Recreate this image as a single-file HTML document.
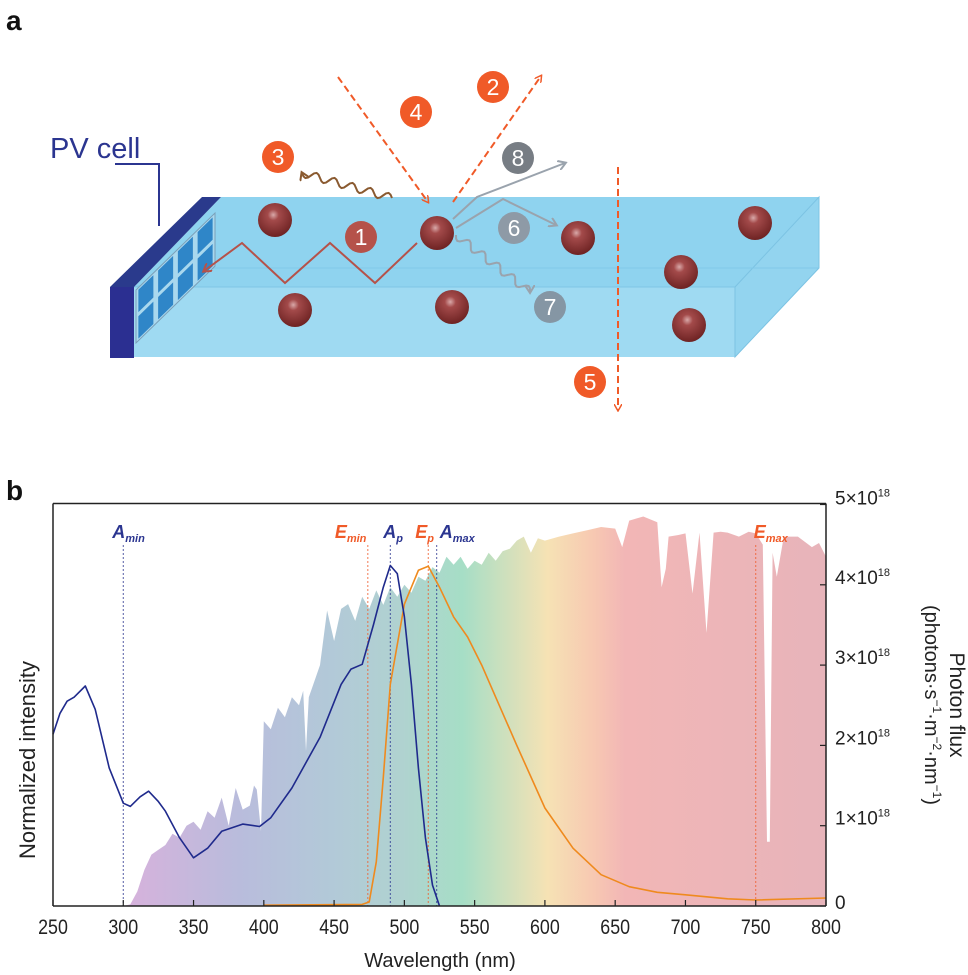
<!DOCTYPE html>
<html><head><meta charset="utf-8">
<style>
html,body{margin:0;padding:0;background:#fff;}
svg{display:block;font-family:"Liberation Sans",sans-serif;}
</style></head>
<body>
<svg id="fig" width="968" height="975" viewBox="0 0 968 975">
<defs>
<radialGradient id="ball" cx="0.45" cy="0.35" r="0.65">
<stop offset="0" stop-color="#d9a9a9"/><stop offset="0.25" stop-color="#a34a4a"/><stop offset="1" stop-color="#6e2323"/>
</radialGradient>
<linearGradient id="spec" x1="53" y1="0" x2="826" y2="0" gradientUnits="userSpaceOnUse">
<stop offset="0.07" stop-color="#dcb0dc"/>
<stop offset="0.24" stop-color="#b9bcdc"/>
<stop offset="0.36" stop-color="#b2c9d8"/>
<stop offset="0.45" stop-color="#b0d2d0"/>
<stop offset="0.53" stop-color="#a6dec6"/>
<stop offset="0.64" stop-color="#f6e2b4"/>
<stop offset="0.7" stop-color="#f7c8b2"/>
<stop offset="0.74" stop-color="#f2b6b6"/>
<stop offset="1" stop-color="#e7b4ba"/>
</linearGradient>
<marker id="arO" markerWidth="8" markerHeight="8" refX="6" refY="4" orient="auto" markerUnits="userSpaceOnUse"><path d="M0,0 L7,4 L0,8" fill="none" stroke="#f05a28" stroke-width="1.5"/></marker>
<marker id="arR" markerWidth="10" markerHeight="10" refX="7" refY="5" orient="auto" markerUnits="userSpaceOnUse"><path d="M0,0 L8,5 L0,10" fill="none" stroke="#b5524a" stroke-width="2"/></marker>
<marker id="arB" markerWidth="10" markerHeight="10" refX="7" refY="5" orient="auto" markerUnits="userSpaceOnUse"><path d="M0,0 L8,5 L0,10" fill="none" stroke="#8a5a30" stroke-width="2"/></marker>
<marker id="arG" markerWidth="10" markerHeight="10" refX="7" refY="5" orient="auto" markerUnits="userSpaceOnUse"><path d="M0,0 L8,5 L0,10" fill="none" stroke="#9aa3ad" stroke-width="2"/></marker>
</defs>

<text x="6" y="30" font-size="28" font-weight="bold" fill="#111">a</text>
<g>
<polygon points="221,197 819,197 735,287 134,287" fill="#8fd3ef"/>
<polygon points="134,287 735,287 735,357 134,357" fill="#9fdaf2"/>
<polygon points="735,287 819,197 819,268 735,357" fill="#93d4ef" stroke="#7cc3e3" stroke-width="1"/>
<polyline points="134,287 214,268 819,268" fill="none" stroke="#80c8e8" stroke-width="1"/>
<line x1="134" y1="287" x2="735" y2="287" stroke="#7fc5e6" stroke-width="1"/>
<polygon points="110,287 134,287 221,197 202,197" fill="#2a3a8c"/>
<rect x="110" y="287" width="24" height="71" fill="#2b2f91"/>
<g id="panel"></g>
<text x="50" y="158" font-size="29" fill="#2b3590">PV cell</text>
<polyline points="115,164 159,164 159,226" fill="none" stroke="#2b3590" stroke-width="2"/>
<line x1="338" y1="77" x2="428" y2="202" stroke="#f05a28" stroke-width="2" stroke-dasharray="7,4" marker-end="url(#arO)"/>
<line x1="453" y1="202" x2="541" y2="76" stroke="#f05a28" stroke-width="2" stroke-dasharray="7,4" marker-end="url(#arO)"/>
<line x1="618" y1="167" x2="618" y2="410" stroke="#f05a28" stroke-width="2" stroke-dasharray="7,4" marker-end="url(#arO)"/>
<polyline points="417,243 375,283 330,243 285,283 242,243 204,271" fill="none" stroke="#b5524a" stroke-width="2" marker-end="url(#arR)"/>
<path id="wv3" fill="none" stroke="#8a5a30" stroke-width="2" marker-end="url(#arB)"/>
<polyline points="453,219 477,197 565,163" fill="none" stroke="#9aa3ad" stroke-width="2" marker-end="url(#arG)"/>
<polyline points="456,228 503,199 556,225" fill="none" stroke="#9aa3ad" stroke-width="2" marker-end="url(#arG)"/>
<path id="wv7" fill="none" stroke="#9aa3ad" stroke-width="2" marker-end="url(#arG)"/>
<g id="balls"></g>
<g id="nums"></g>
</g>

<text x="6" y="500" font-size="28" font-weight="bold" fill="#111">b</text>
<g id="chart"></g>
</svg>
<script>
const solarWl = [300,305,310,315,320,325,330,335,340,345,350,355,360,365,370,375,380,385,390,393,395,398,400,405,410,415,420,425,428,430,432,435,440,445,450,455,460,465,470,475,480,485,490,495,500,505,510,515,520,525,530,535,540,545,550,555,560,565,570,575,580,585,590,595,600,610,620,630,640,650,655,660,670,680,683,686,688,695,700,705,710,715,720,725,730,738,745,750,755,758,760,762,765,770,780,790,795,800];
const solarFlux = [0,0.02,0.18,0.45,0.64,0.7,0.76,0.9,0.85,1.0,1.05,0.95,1.18,1.1,1.35,1.0,1.47,1.2,1.25,1.5,1.45,0.93,2.3,2.2,2.47,2.35,2.6,2.5,2.68,1.93,2.6,2.75,3.0,3.68,3.3,3.7,3.76,3.55,3.85,3.7,3.93,3.75,3.97,3.85,4.0,3.9,4.1,4.05,4.22,4.15,4.35,4.25,4.35,4.2,4.3,4.25,4.4,4.3,4.42,4.45,4.55,4.6,4.4,4.58,4.55,4.6,4.64,4.68,4.72,4.7,4.47,4.8,4.85,4.78,3.97,4.2,4.6,4.62,4.64,3.89,4.65,3.4,4.65,4.66,4.65,4.6,4.66,4.64,4.5,0.8,0.8,4.4,4.1,4.6,4.6,4.47,4.52,4.35];
const absWl = [250,255,260,265,273,280,290,300,305,312,318,325,330,340,350,360,370,385,397,405,420,440,455,462,470,478,485,490,495,500,505,510,515,520,525];
const absVal = [2.14,2.4,2.55,2.6,2.74,2.45,1.72,1.28,1.24,1.36,1.43,1.3,1.18,0.85,0.6,0.72,0.93,1.02,0.99,1.1,1.47,2.1,2.76,2.95,3.01,3.5,3.97,4.24,4.14,3.6,2.76,1.72,0.85,0.26,0];
const emWl = [400,470,475,480,485,490,500,510,517,525,535,545,555,565,580,600,620,640,660,680,700,730,750,800];
const emVal = [0.01,0.02,0.05,0.55,1.6,2.76,3.76,4.18,4.23,3.97,3.6,3.35,3.0,2.6,2.0,1.22,0.72,0.39,0.24,0.17,0.14,0.09,0.075,0.1];
const xTicks = [250,300,350,400,450,500,550,600,650,700,750,800];
const yTicks = [0,1,2,3,4,5];
const markerNames = ["A","E","A","E","A","E"];
const markerSubs = ["min","min","p","p","max","max"];
const markerWl = [300,474,490,517,523,750];
const markerKind = ["abs","em","abs","em","abs","em"];

const NS="http://www.w3.org/2000/svg";
function mk(tag,attrs,parent){const e=document.createElementNS(NS,tag);for(const k in attrs)e.setAttribute(k,attrs[k]);if(parent)parent.appendChild(e);return e;}
const X0=53,X1=826,Y0=906,Y5=504.5;
function xs(w){return X0+(w-250)*(X1-X0)/550;}
function ys(v){return Y0-v*(Y0-Y5)/5;}
const chart=document.getElementById('chart');

let d='M'+xs(solarWl[0])+','+ys(0);
solarWl.forEach((w,i)=>{d+=' L'+xs(w).toFixed(1)+','+ys(solarFlux[i]).toFixed(1);});
d+=' L'+xs(800)+','+ys(0)+' Z';
const sol=mk('path',{d:d,fill:'url(#spec)'},chart);



// label offsets relative to line (label layout, not data)
const labelShift={"min":-11,"p":-7,"max":3};
markerWl.forEach((w,i)=>{
  const col=markerKind[i]==='abs'?'#2b3590':'#f05a28';
  const ln=mk('line',{x1:xs(w),x2:xs(w),y1:545,y2:Y0,stroke:col,'stroke-width':1,'stroke-dasharray':'2,2',opacity:0.8},chart);
  
  
  let dx;
  if(markerSubs[i]==='min') dx = markerKind[i]==='em' ? -33 : -11;
  else if(markerSubs[i]==='p') dx = markerKind[i]==='em' ? -13 : -7;
  else dx = markerKind[i]==='em' ? -2 : 3;
  const t=mk('text',{x:xs(w)+dx,y:538,fill:col,'font-size':18,'font-weight':'bold','font-style':'italic'},chart);
  
  
  t.textContent=markerNames[i];
  const s=mk('tspan',{'font-size':11,dy:4},t); s.textContent=markerSubs[i];
});

function curve(ws,vs,col,name){
  let p='';ws.forEach((w,i)=>{p+=(i?' L':'M')+xs(w).toFixed(1)+','+ys(vs[i]).toFixed(1);});
  const e=mk('path',{d:p,fill:'none',stroke:col,'stroke-width':1.6,'stroke-linejoin':'round'},chart);
  
  
}
curve(emWl,emVal,'#ef8a1e','emission-curve');
curve(absWl,absVal,'#1f2a8c','absorption-curve');

const fr=mk('path',{d:`M${X0},${Y5-1} L${X1},${Y5-1} M${X0},${Y0} L${X1},${Y0} M${X0},${Y5-1} L${X0},${Y0} M${X1},${Y5-1} L${X1},${Y0}`,stroke:'#222','stroke-width':1.5,fill:'none'},chart);



xTicks.forEach(w=>{
  const tk=mk('line',{x1:xs(w),x2:xs(w),y1:Y0,y2:Y0-6,stroke:'#222','stroke-width':1.2},chart);
  
  
  const t=mk('text',{x:xs(w),y:934,'text-anchor':'middle','font-size':21,fill:'#222',transform:`translate(${xs(w)},0) scale(0.85,1) translate(${-xs(w)},0)`},chart);
  
  
  t.textContent=w;
});
yTicks.forEach(v=>{
  const tk=mk('line',{x1:X1,x2:X1-6,y1:ys(v),y2:ys(v),stroke:'#222','stroke-width':1.2},chart);
  
  
  const t=mk('text',{x:835,y:ys(v)+(v===0?3:v===5?0:-1),'font-size':19,fill:'#222'},chart);
  
  
  if(v===0){t.textContent='0';}else{t.textContent=v+'×10';const s=mk('tspan',{'font-size':11,dy:-8},t);s.textContent='18';}
});
const xl=mk('text',{x:440,y:967,'text-anchor':'middle','font-size':20,fill:'#222'},chart);


xl.textContent='Wavelength (nm)';
const yl=mk('text',{x:0,y:0,'text-anchor':'middle','font-size':22,fill:'#222',transform:'translate(35,760) rotate(-90)'},chart);


yl.textContent='Normalized intensity';
const yr=mk('text',{x:0,y:0,'text-anchor':'middle','font-size':21,fill:'#222',transform:'translate(950,705) rotate(90)'},chart);


yr.textContent='Photon flux';
const yr2=mk('text',{x:0,y:0,'text-anchor':'middle','font-size':20,fill:'#222',transform:'translate(925,705) rotate(90)'},chart);


yr2.innerHTML='(photons·s<tspan font-size="12" dy="-8">−1</tspan><tspan dy="8">·m</tspan><tspan font-size="12" dy="-8">−2</tspan><tspan dy="8">·nm</tspan><tspan font-size="12" dy="-8">−1</tspan><tspan dy="8">)</tspan>';

const panel=document.getElementById('panel');
function P(u,v){return [136+79*u, 290-77*u+v*53];}
const bg=[P(0,0),P(1,0),P(1,1),P(0,1)].map(p=>p.join(',')).join(' ');
mk('polygon',{points:bg,fill:'#a9d8ee',stroke:'#7a9fb8','stroke-width':1},panel);
for(let i=0;i<4;i++)for(let j=0;j<2;j++){
  const a=P(i/4+0.03,j/2+0.04),b=P((i+1)/4-0.03,j/2+0.04),c=P((i+1)/4-0.03,(j+1)/2-0.04),e=P(i/4+0.03,(j+1)/2-0.04);
  const r=mk('polygon',{points:[a,b,c,e].map(p=>p.join(',')).join(' '),fill:'#2f86c8'},panel);
  
  
}
function wavy(id,x1,y1,x2,y2,n,amp){
  const dx=x2-x1,dy=y2-y1,L=Math.hypot(dx,dy),ux=dx/L,uy=dy/L,nx=-uy,ny=ux;let p='M'+x1+','+y1;
  const steps=n*8;for(let k=1;k<=steps;k++){const t=k/steps;const o=Math.sin(t*n*2*Math.PI)*amp*(k<steps?1:0);p+=' L'+(x1+dx*t+nx*o).toFixed(1)+','+(y1+dy*t+ny*o).toFixed(1);}
  document.getElementById(id).setAttribute('d',p);
}
wavy('wv3',392,198,302,173,5,4);
wavy('wv7',456,235,530,292,5,4);
const balls=document.getElementById('balls');
[[275,220],[295,310],[437,233],[452,307],[578,238],[681,272],[755,223],[689,325]].forEach(p=>{
  const c=mk('circle',{cx:p[0],cy:p[1],r:17,fill:'url(#ball)'},balls);
  
  
});
const nums=document.getElementById('nums');
[["1",361,237,"#b5524a"],["2",493,87,"#f05a28"],["3",278,157,"#f05a28"],["4",416,112,"#f05a28"],["5",590,382,"#f05a28"],["6",514,228,"#8e9aa6"],["7",550,307,"#8596a4"],["8",518,158,"#777d84"]].forEach(n=>{
  const g=mk('g',{},nums);
  
  
  mk('circle',{cx:n[1],cy:n[2],r:16,fill:n[3]},g);
  const t=mk('text',{x:n[1],y:n[2]+8,'text-anchor':'middle','font-size':23,fill:'#fff'},g);t.textContent=n[0];
});
</script>
</body></html>
